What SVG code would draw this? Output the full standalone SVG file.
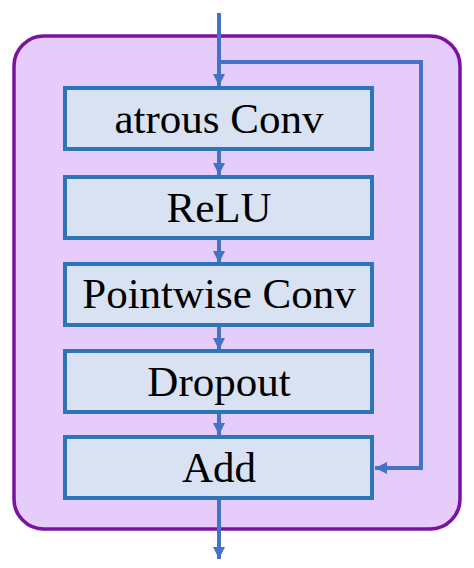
<svg xmlns="http://www.w3.org/2000/svg" width="474" height="568" viewBox="0 0 474 568">
<style>
.box{fill:#D9E2F3;stroke:#2E75B6;stroke-width:4}
.lbl{font-family:"Liberation Serif","Times New Roman",serif;font-size:43px;fill:#000;text-anchor:middle}
.con{stroke:#4472C4;stroke-width:4;fill:none}
</style>
<defs>
<marker id="ah" markerUnits="userSpaceOnUse" markerWidth="14" markerHeight="14" refX="12" refY="6" orient="auto">
<path d="M0,0 L12,6 L0,12 Z" fill="#4472C4"/>
</marker>
</defs>
<rect x="14" y="36" width="446" height="493" rx="30" ry="30" fill="#E5CCFA" stroke="#7B12A1" stroke-width="3.5"/>
<g id="connectors">
<line class="con" x1="219" y1="13" x2="219" y2="86" marker-end="url(#ah)"/>
<polyline class="con" points="219,62 421,62 421,468 375,468" marker-end="url(#ah)"/>
<line class="con" x1="219" y1="151" x2="219" y2="175" marker-end="url(#ah)"/>
<line class="con" x1="219" y1="239" x2="219" y2="263" marker-end="url(#ah)"/>
<line class="con" x1="219" y1="326" x2="219" y2="350" marker-end="url(#ah)"/>
<line class="con" x1="219" y1="413" x2="219" y2="435" marker-end="url(#ah)"/>
<line class="con" x1="219" y1="500" x2="219" y2="559" marker-end="url(#ah)"/>
</g>
<g id="n1"><rect class="box" x="65" y="88" width="307" height="61"/><text class="lbl" x="219" y="133">atrous Conv</text></g>
<g id="n2"><rect class="box" x="65" y="177" width="307" height="61"/><text class="lbl" x="219" y="222">ReLU</text></g>
<g id="n3"><rect class="box" x="65" y="264" width="307" height="61"/><text class="lbl" x="219" y="308">Pointwise Conv</text></g>
<g id="n4"><rect class="box" x="65" y="351" width="307" height="61"/><text class="lbl" x="219" y="396">Dropout</text></g>
<g id="n5"><rect class="box" x="65" y="437" width="307" height="61"/><text class="lbl" x="219" y="482">Add</text></g>
</svg>
